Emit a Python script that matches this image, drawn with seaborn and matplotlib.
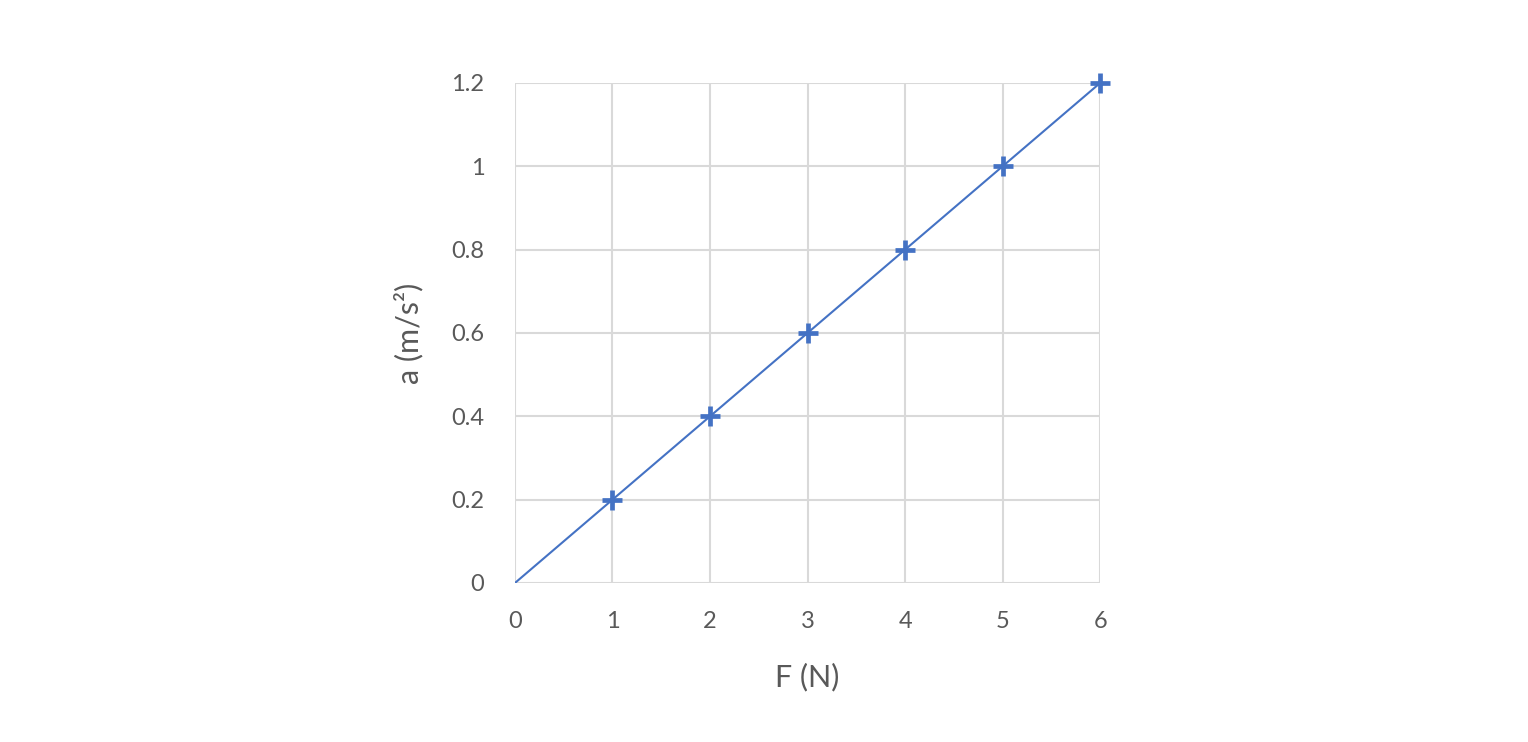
import numpy as np
import pandas as pd
import matplotlib
matplotlib.use('Agg')
import matplotlib.pyplot as plt
import seaborn as sns

# data
force = [1, 2, 3, 4, 5, 6]
accel = [0.2, 0.4, 0.6, 0.8, 1.0, 1.2]
x_ticks = [0, 1, 2, 3, 4, 5, 6]
y_ticks = [0, 0.2, 0.4, 0.6, 0.8, 1, 1.2]
y_labels = ['0', '0.2', '0.4', '0.6', '0.8', '1', '1.2']

df = pd.DataFrame({'F': force, 'a': accel})

# trendline through origin (least squares)
slope = np.sum(np.array(force) * np.array(accel)) / np.sum(np.array(force) ** 2)
trend = pd.DataFrame({'F': [0, 6], 'a': [0, 6 * slope]})

sns.set_theme(style='white')
plt.rcParams['font.family'] = ['Lato', 'DejaVu Sans']

blue = '#4472C4'
grid = '#D9D9D9'
txt = '#595959'

fig = plt.figure(figsize=(15.28, 7.42), dpi=100)
ax = fig.add_axes([0.337, 0.2143, 0.383, 0.6739])

sns.lineplot(data=trend, x='F', y='a', ax=ax, color=blue, linewidth=1.5, zorder=3)
ax.plot(df['F'], df['a'], linestyle='none', marker='+', markersize=15,
        markeredgewidth=3.4, color=blue, zorder=4, clip_on=False)

ax.set_xlim(0, 6)
ax.set_ylim(0, 1.2)
ax.set_xticks(x_ticks)
ax.set_yticks(y_ticks)
ax.set_yticklabels(y_labels)
ax.grid(True, color=grid, linewidth=1.5)
for s in ax.spines.values():
    s.set_visible(False)
ax.tick_params(axis='both', length=0, labelsize=17, colors=txt)
ax.tick_params(axis='x', pad=20)
ax.tick_params(axis='y', pad=22)

ax.set_xlabel('F (N)', fontsize=22, color=txt, labelpad=22)
ax.set_ylabel('a (m/s²)', fontsize=22, color=txt, labelpad=20)

fig.savefig('out.png', dpi=100, facecolor='white')
